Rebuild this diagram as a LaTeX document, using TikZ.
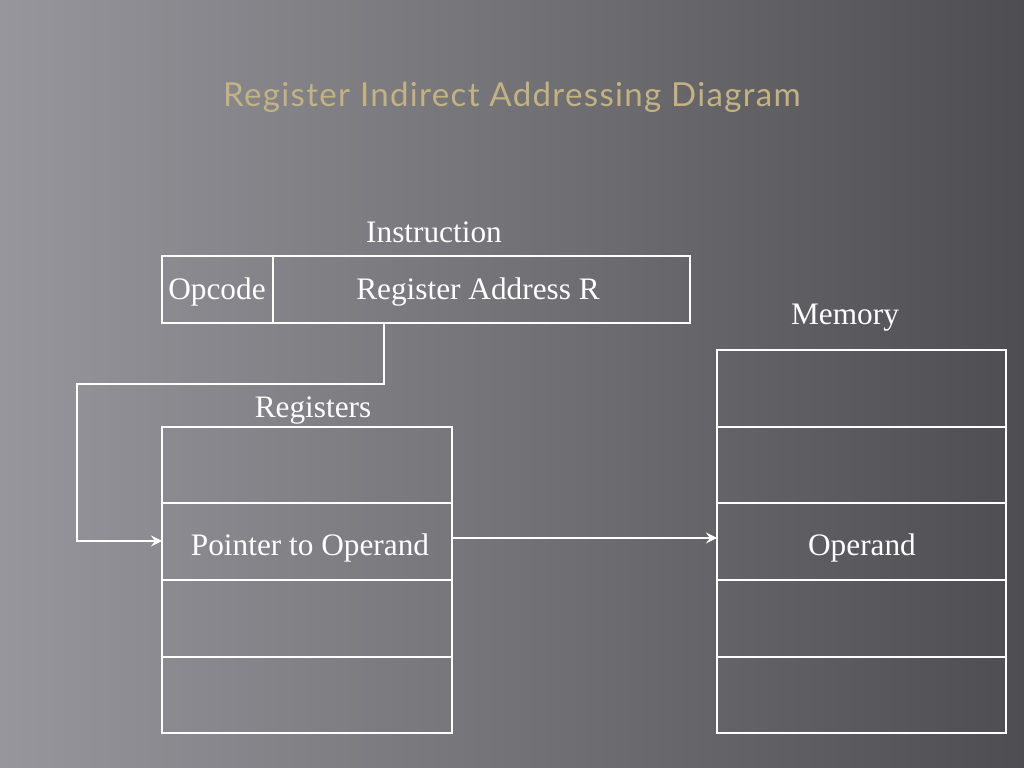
\documentclass[tikz,border=0pt]{standalone}
\usepackage{fontspec}
\setmainfont{Liberation Serif}
\newfontfamily\titlefont{Lato}
\usetikzlibrary{arrows}
\begin{document}
\begin{tikzpicture}[
		x=0.01cm,y=-0.01cm,
		>=stealth,
		cell/.style={draw=white,thin},
		lbl/.style={text=white,font=\fontsize{8.9}{10}\selectfont,inner sep=0pt}
		]
		\definecolor{bgdark}{RGB}{78,78,82}
		\definecolor{bglight}{RGB}{150,150,156}
		\definecolor{titlecol}{RGB}{196,178,128}
		\shade[left color=bglight,right color=bgdark] (0,0) rectangle (1024,768);
		\useasboundingbox (0,0) rectangle (1024,768);
		\node[text=titlecol,font=\titlefont\fontsize{9.4}{11}\selectfont,inner sep=0pt](title) at (512,97){\addfontfeature{LetterSpace=4}Register Indirect Addressing Diagram};
		% instruction
		\node[lbl](instr) at (434,232){Instruction};
		\draw[cell] (162,256) rectangle (690,323);
		\draw[cell] (273,256) -- (273,323);
		\node[lbl](opcode) at (217,292){Opcode};
		\node[lbl](regaddr) at (478,292){Register Address R};
		\coordinate (down) at (384,323);
		% registers
		\node[lbl](regs) at (313,411){Registers};
		\draw[cell] (162,427) rectangle (452,733);
		\foreach \y in {503,580,657} \draw[cell] (162,\y) -- (452,\y);
		\node[lbl](pointer) at (310,548){Pointer to Operand};
		\coordinate (regin) at (162,541);
		\coordinate (regout) at (452,538);
		% memory
		\node[lbl](mem) at (845,318){Memory};
		\draw[cell] (717,350) rectangle (1006,733);
		\foreach \y in {427,503,580,657} \draw[cell] (717,\y) -- (1006,\y);
		\node[lbl](operand) at (862,548){Operand};
		\coordinate (memin) at (717,538);
		\draw[->,white,thin] (down) |- (77,384) |- (regin);
		\draw[->,white,thin] (regout) -- (memin);
\end{tikzpicture}
\end{document}
